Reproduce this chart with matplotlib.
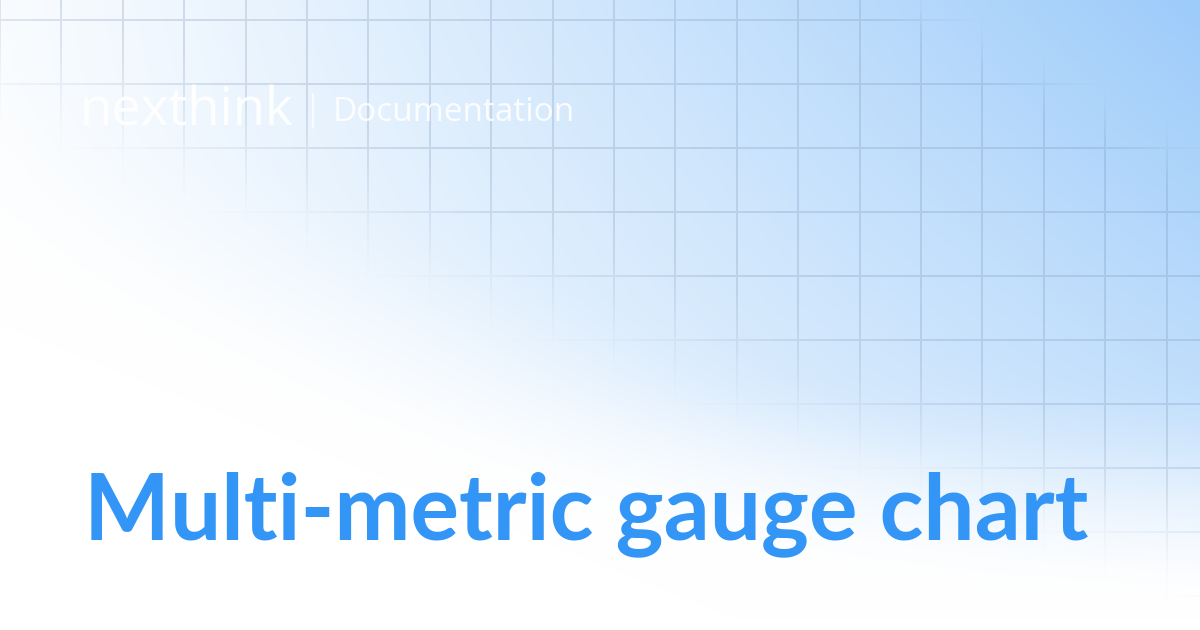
import numpy as np
import matplotlib
matplotlib.use("Agg")
from matplotlib import pyplot as plt

# card texts
title = "Multi-metric gauge chart"
brand = "nexthink"
section = "Documentation"

W, H = 1200, 630
grid_dx = 61.4
grid_dy = 64.0
grid_y0 = 20.0


def smoothstep(e0, e1, x):
    t = np.clip((x - e0) / (e1 - e0), 0, 1)
    return t * t * (3 - 2 * t)


xx, yy = np.meshgrid(np.arange(W) + 0.5, np.arange(H) + 0.5)
u = xx / W
v = yy / H

# blue glow from the top right corner
blue = np.array([156, 203, 250]) / 255.0
b = (0.06 + 0.94 * u ** 1.15) * (1 - 0.6 * v)

# white fade towards the bottom left (diagonal edge) and the bottom
d = yy - (135 + 0.4 * xx)
w_diag = smoothstep(-90, 190, d)
w_bot = smoothstep(370, 620, yy)
w_bg = 1 - (1 - w_diag) * (1 - w_bot)
k = b * (1 - w_bg)
bg = 1 - k[..., None] * (1 - blue)

# where the grid shows through
tr = smoothstep(-30, 45, (60 + 0.56 * (xx - 981)) - yy)
mask = (1 - smoothstep(-170, 0, d)) * (1 - tr)

fig = plt.figure(figsize=(12, 6.3), dpi=100)
ax = fig.add_axes([0, 0, 1, 1])
ax.set_xlim(0, W)
ax.set_ylim(H, 0)
ax.axis('off')

ax.imshow(bg, extent=(0, W, H, 0), zorder=1, interpolation='nearest')
gx = np.arange(0, W + 1, grid_dx)
gy = np.arange(grid_y0, H, grid_dy)
ax.vlines(gx, 0, H, color='#7891b4', lw=1.4, zorder=2)
ax.hlines(gy, 0, W, color='#7891b4', lw=1.4, zorder=2)
over = np.dstack([bg, 1 - 0.26 * mask])
ax.imshow(over, extent=(0, W, H, 0), zorder=3, interpolation='nearest')

ax.text(79, 126, brand, color='white', alpha=0.95, fontsize=38,
        family='Open Sans', weight='medium', va='baseline', ha='left',
        zorder=5)
ax.plot([313, 313], [94, 127], color='white', lw=1.2, alpha=0.9, zorder=5)
ax.text(333, 121, section, color='white', alpha=0.88, fontsize=24,
        family='Open Sans', va='baseline', ha='left', zorder=5)

ax.text(84, 539, title, color='#3396f6', fontsize=65.4, family='Lato',
        weight='bold', va='baseline', ha='left', zorder=5)

plt.savefig('out.png', dpi=100)
